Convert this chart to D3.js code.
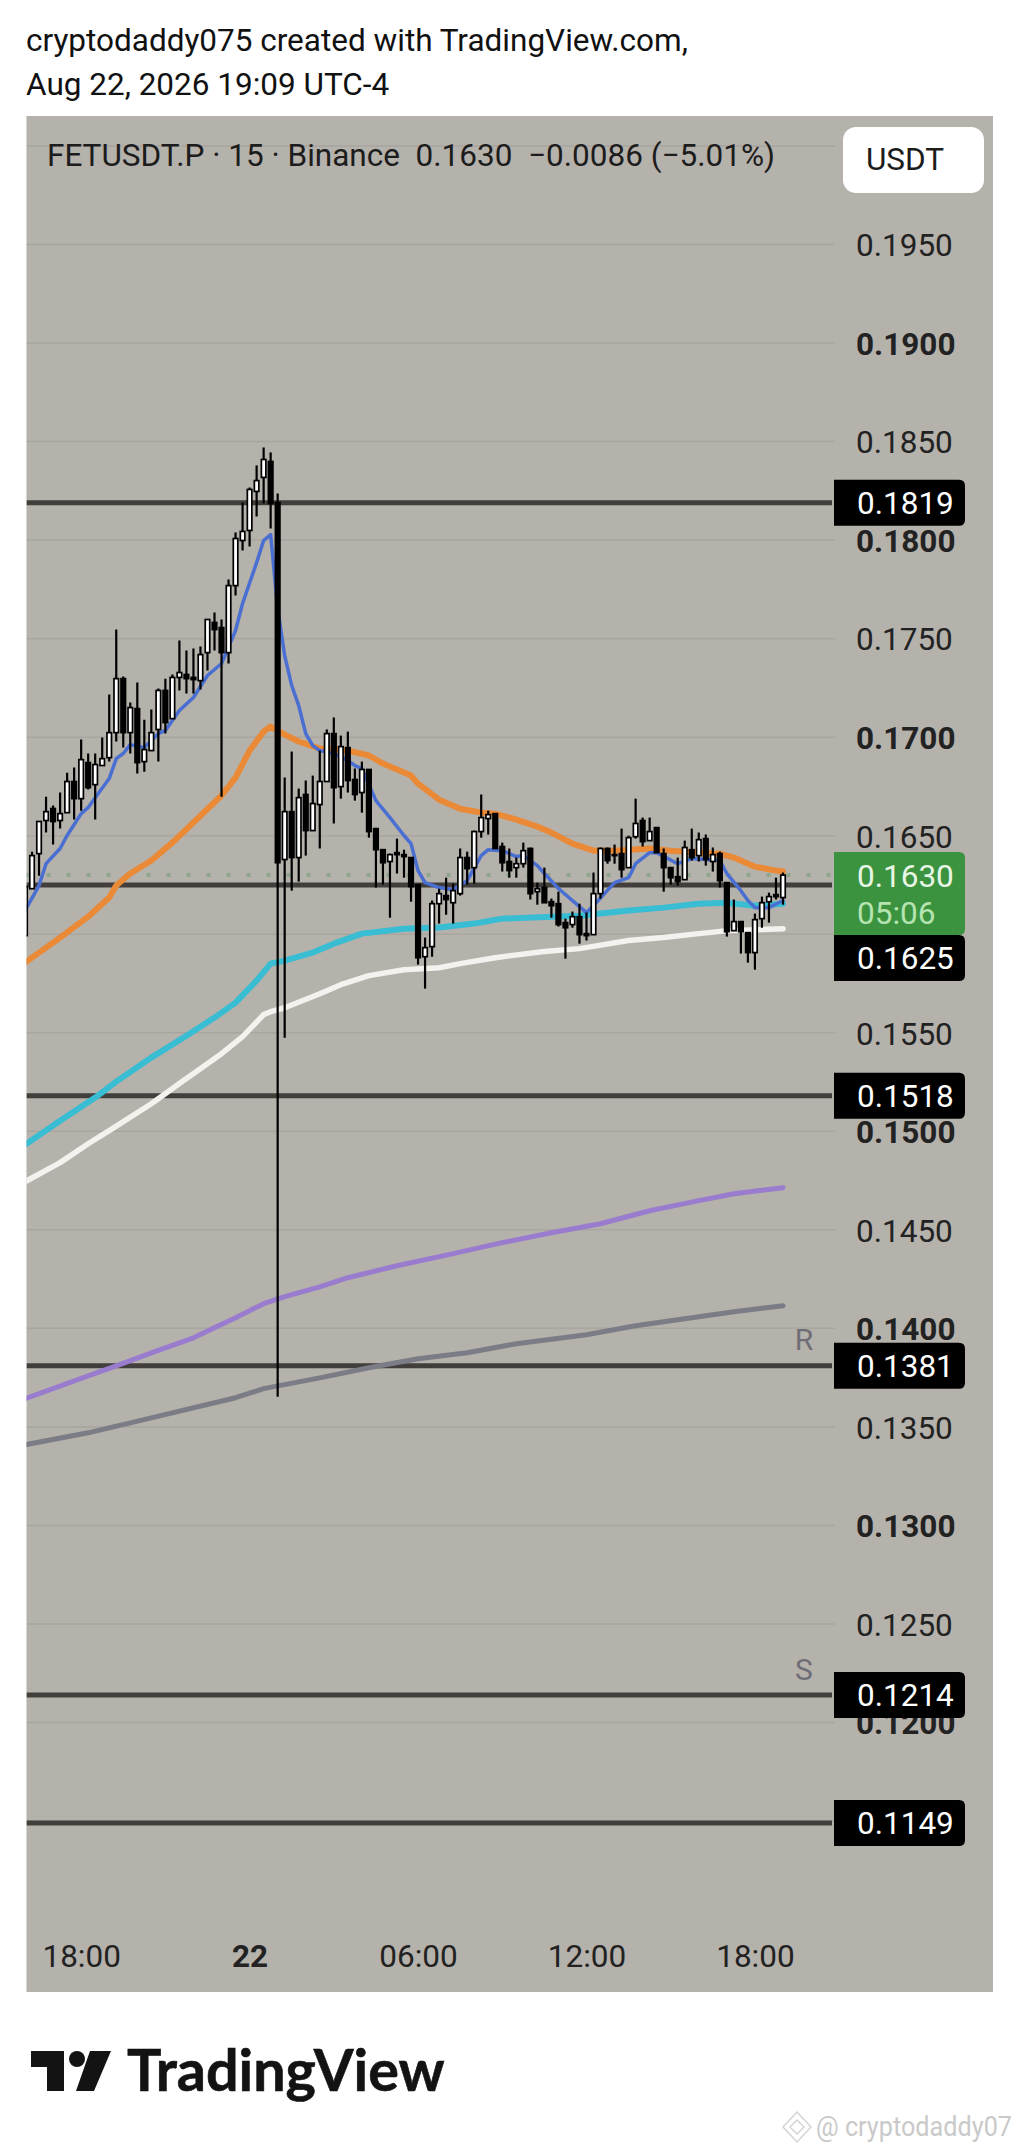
<!DOCTYPE html>
<html>
<head>
<meta charset="utf-8">
<script src="https://cdnjs.cloudflare.com/ajax/libs/d3/7.9.0/d3.min.js"></script>
<style>
  html, body { margin: 0; padding: 0; background: #fff; }
  svg { display: block; }
  text { font-family: Roboto, sans-serif; white-space: pre; }
</style>
</head>
<body>
<div id="chart"></div>
<script>
// 15 minute candles
const open = [0.15993,0.16231,0.16409,0.16577,0.16638,0.16577,0.16617,0.16775,0.16688,0.16871,0.16759,0.16856,0.16896,0.17023,0.17297,0.17023,0.17145,0.16876,0.16932,0.17039,0.17237,0.17094,0.17303,0.17318,0.17303,0.17287,0.17429,0.17582,0.17556,0.17429,0.17769,0.17998,0.18049,0.18247,0.18318,0.18399,0.18191,0.16379,0.16622,0.16389,0.16709,0.16526,0.16658,0.16775,0.17018,0.16749,0.16947,0.16785,0.16719,0.16836,0.16536,0.16429,0.16369,0.16414,0.16404,0.16389,0.16252,0.15886,0.15937,0.16155,0.16196,0.16160,0.16206,0.16389,0.16338,0.16521,0.16587,0.16612,0.16445,0.16369,0.16338,0.16358,0.16435,0.16216,0.16237,0.16165,0.16155,0.16059,0.16049,0.16089,0.16003,0.15998,0.16206,0.16435,0.16404,0.16409,0.16338,0.16495,0.16577,0.16475,0.16541,0.16409,0.16338,0.16292,0.16277,0.16429,0.16399,0.16485,0.16369,0.16409,0.16262,0.16018,0.16064,0.16008,0.15907,0.16079,0.16165,0.16201,0.16186];
const high = [0.16242,0.16419,0.16572,0.16698,0.16653,0.16719,0.16820,0.16846,0.16988,0.16917,0.16917,0.16998,0.17216,0.17546,0.17308,0.17176,0.17277,0.17089,0.17140,0.17247,0.17297,0.17318,0.17490,0.17440,0.17450,0.17460,0.17597,0.17632,0.17597,0.17800,0.18039,0.18191,0.18267,0.18379,0.18470,0.18445,0.18236,0.16795,0.16927,0.16739,0.16780,0.16805,0.16932,0.17039,0.17100,0.17008,0.17028,0.16841,0.16876,0.16836,0.16536,0.16429,0.16409,0.16485,0.16429,0.16389,0.16252,0.15983,0.16171,0.16231,0.16287,0.16257,0.16435,0.16419,0.16526,0.16709,0.16627,0.16612,0.16465,0.16435,0.16389,0.16465,0.16440,0.16262,0.16338,0.16181,0.16216,0.16079,0.16115,0.16155,0.16110,0.16313,0.16440,0.16440,0.16455,0.16536,0.16500,0.16688,0.16592,0.16592,0.16541,0.16435,0.16338,0.16389,0.16475,0.16536,0.16516,0.16506,0.16440,0.16419,0.16262,0.16176,0.16064,0.16008,0.16105,0.16191,0.16211,0.16287,0.16313];
const low = [0.15993,0.16231,0.16297,0.16516,0.16455,0.16536,0.16617,0.16582,0.16627,0.16734,0.16582,0.16856,0.16876,0.16978,0.16947,0.16917,0.16815,0.16825,0.16932,0.16876,0.17018,0.17094,0.17237,0.17221,0.17221,0.17242,0.17338,0.17440,0.16698,0.17374,0.17719,0.17947,0.17967,0.18120,0.18186,0.18059,0.13653,0.15475,0.16221,0.16267,0.16399,0.16526,0.16435,0.16775,0.16562,0.16688,0.16719,0.16678,0.16617,0.16490,0.16237,0.16252,0.16084,0.16308,0.16287,0.16165,0.15846,0.15724,0.15886,0.16054,0.16099,0.16054,0.16196,0.16252,0.16257,0.16490,0.16506,0.16435,0.16318,0.16287,0.16287,0.16338,0.16176,0.16150,0.16160,0.16084,0.16039,0.15876,0.16033,0.15952,0.15968,0.15998,0.16181,0.16358,0.16358,0.16287,0.16338,0.16485,0.16445,0.16475,0.16414,0.16216,0.16252,0.16247,0.16277,0.16374,0.16369,0.16348,0.16318,0.16237,0.15988,0.16018,0.15902,0.15856,0.15820,0.16033,0.16059,0.16176,0.16150];
const close = [0.16242,0.16399,0.16572,0.16622,0.16572,0.16612,0.16775,0.16688,0.16886,0.16744,0.16861,0.16891,0.17023,0.17297,0.17023,0.17150,0.16871,0.16937,0.17023,0.17237,0.17074,0.17303,0.17328,0.17297,0.17292,0.17419,0.17597,0.17546,0.17429,0.17769,0.18008,0.18044,0.18257,0.18302,0.18409,0.18186,0.16363,0.16622,0.16389,0.16693,0.16526,0.16663,0.16775,0.17018,0.16744,0.16952,0.16780,0.16709,0.16836,0.16521,0.16429,0.16363,0.16404,0.16404,0.16394,0.16242,0.15881,0.15932,0.16155,0.16206,0.16176,0.16221,0.16389,0.16333,0.16521,0.16592,0.16607,0.16435,0.16363,0.16323,0.16358,0.16424,0.16206,0.16231,0.16160,0.16145,0.16049,0.16033,0.16089,0.15998,0.15993,0.16206,0.16435,0.16374,0.16399,0.16328,0.16490,0.16562,0.16470,0.16521,0.16414,0.16338,0.16287,0.16267,0.16440,0.16389,0.16480,0.16379,0.16404,0.16272,0.16013,0.16064,0.16013,0.15907,0.16074,0.16160,0.16191,0.16191,0.16300];

// moving averages, read at the candle indices listed
const blueIdx = [0,2,3,5,6,8,9,10,12,13,14,15,17,19,20,22,24,26,28,30,31,33,34,35,36,37,38,39,40,41,42,44,46,47,48,50,52,54,55,56,57,59,61,63,65,66,68,70,71,73,74,76,80,81,84,86,87,89,90,93,95,97,99,100,102,103,104,106,108];
const blueVal = [0.16120,0.16247,0.16358,0.16435,0.16501,0.16612,0.16643,0.16693,0.16790,0.16891,0.16917,0.16962,0.16947,0.17018,0.17034,0.17135,0.17201,0.17313,0.17374,0.17541,0.17678,0.17886,0.17998,0.18028,0.17653,0.17414,0.17262,0.17160,0.17018,0.16957,0.16932,0.16917,0.16881,0.16856,0.16841,0.16678,0.16592,0.16501,0.16460,0.16323,0.16262,0.16237,0.16226,0.16272,0.16399,0.16429,0.16424,0.16394,0.16399,0.16348,0.16308,0.16232,0.16110,0.16145,0.16262,0.16287,0.16358,0.16414,0.16414,0.16358,0.16384,0.16379,0.16374,0.16308,0.16221,0.16171,0.16135,0.16135,0.16171];
const orangeIdx = [0,3,5,9,12,13,15,18,21,24,28,30,32,34,35,37,39,42,46,49,51,55,56,59,62,65,67,70,73,75,78,81,84,89,92,96,99,101,104,107,108];
const orangeVal = [0.15856,0.15932,0.15983,0.16089,0.16186,0.16247,0.16308,0.16374,0.16465,0.16567,0.16704,0.16795,0.16932,0.17028,0.17054,0.17013,0.16978,0.16942,0.16932,0.16907,0.16866,0.16805,0.16764,0.16683,0.16637,0.16617,0.16612,0.16582,0.16546,0.16516,0.16460,0.16424,0.16424,0.16435,0.16424,0.16414,0.16409,0.16389,0.16343,0.16323,0.16318];
const cyanIdx = [0,5,10,13,18,23,27,30,33,35,37,41,44,48,54,59,64,68,75,79,86,91,96,100,104,108];
const cyanVal = [0.14932,0.15054,0.15171,0.15252,0.15374,0.15485,0.15577,0.15653,0.15765,0.15851,0.15866,0.15907,0.15952,0.16003,0.16028,0.16034,0.16054,0.16079,0.16089,0.16094,0.16120,0.16135,0.16155,0.16160,0.16145,0.16155];
const whiteIdx = [0,5,9,12,18,22,28,31,34,35,37,42,45,49,54,59,62,67,74,79,86,91,96,100,108];
const whiteVal = [0.14744,0.14841,0.14937,0.15003,0.15140,0.15242,0.15394,0.15480,0.15592,0.15607,0.15627,0.15698,0.15744,0.15790,0.15820,0.15830,0.15851,0.15881,0.15912,0.15927,0.15968,0.15983,0.16003,0.16018,0.16028];
const purpleIdx = [0,9,13,18,24,30,34,37,42,46,53,61,68,75,82,89,96,101,108];
const purpleVal = [0.13643,0.13759,0.13810,0.13876,0.13952,0.14054,0.14125,0.14161,0.14211,0.14257,0.14318,0.14379,0.14435,0.14485,0.14531,0.14597,0.14648,0.14683,0.14714];
const grayIdx = [0,9,18,30,34,42,49,56,63,70,80,87,96,101,108];
const grayVal = [0.13409,0.13470,0.13546,0.13648,0.13694,0.13749,0.13800,0.13846,0.13876,0.13922,0.13968,0.14013,0.14059,0.14084,0.14115];

// horizontal levels and axis labels
const levels = [0.1819, 0.1625, 0.1518, 0.1381, 0.1214, 0.1149];
const priceTicks = [0.1950,0.1900,0.1850,0.1800,0.1750,0.1700,0.1650,0.1550,0.1500,0.1450,0.1400,0.1350,0.1300,0.1250,0.1200];
const gridTicks = [0.2000,0.1950,0.1900,0.1850,0.1800,0.1750,0.1700,0.1650,0.1600,0.1550,0.1500,0.1450,0.1400,0.1350,0.1300,0.1250,0.1200,0.1150];
const boldTicks = [0.1900,0.1800,0.1700,0.1500,0.1400,0.1300,0.1200];
const timeIdx = [8, 32, 56, 80, 104];
const timeLabels = ["18:00", "22", "06:00", "12:00", "18:00"];
const lastPrice = 0.1630;

const W = 1020, H = 2151;
const pane = { left: 26.5, right: 835, top: 116, bottom: 1992, edge: 993 };
const fontSize = 31.5;

const x = d3.scaleLinear().domain([0, 108]).range([25, 783]);
const y = d3.scaleLinear().domain([0.195, 0.12]).range([244.5, 1722.5]);

const svg = d3.select("#chart").append("svg")
    .attr("width", W)
    .attr("height", H);

// background of the chart
svg.append("rect")
    .attr("x", pane.left)
    .attr("y", pane.top)
    .attr("width", pane.edge - pane.left)
    .attr("height", pane.bottom - pane.top)
    .attr("fill", "#b5b1ab");

svg.append("defs").append("clipPath")
    .attr("id", "pane-clip")
  .append("rect")
    .attr("x", pane.left)
    .attr("y", pane.top)
    .attr("width", pane.right - pane.left)
    .attr("height", pane.bottom - pane.top);

const plot = svg.append("g").attr("clip-path", "url(#pane-clip)");

// gridlines
plot.selectAll("line.grid")
    .data(gridTicks)
  .enter().append("line")
    .attr("class", "grid")
    .attr("x1", pane.left)
    .attr("x2", pane.right)
    .attr("y1", d => y(d))
    .attr("y2", d => y(d))
    .attr("stroke", "#a9a59f")
    .attr("stroke-width", 1.5);

// levels
plot.selectAll("line.level")
    .data(levels)
  .enter().append("line")
    .attr("class", "level")
    .attr("x1", pane.left)
    .attr("x2", 832)
    .attr("y1", d => y(d))
    .attr("y2", d => y(d))
    .attr("stroke", "#423e3b")
    .attr("stroke-width", 5);

// dotted last price line
plot.append("line")
    .attr("x1", pane.left)
    .attr("x2", 832)
    .attr("y1", y(lastPrice))
    .attr("y2", y(lastPrice))
    .attr("stroke", "#8fa58c")
    .attr("stroke-width", 4)
    .attr("stroke-dasharray", "4 16");

// moving averages
const maLine = d3.line()
    .x(d => x(d[0]))
    .y(d => y(d[1]));

const maSeries = [
  { idx: grayIdx, val: grayVal, color: "#7c7c86", width: 5 },
  { idx: purpleIdx, val: purpleVal, color: "#9a7ccf", width: 5 },
  { idx: whiteIdx, val: whiteVal, color: "#f3f2ef", width: 5.5 },
  { idx: cyanIdx, val: cyanVal, color: "#38bdd3", width: 6 },
  { idx: orangeIdx, val: orangeVal, color: "#ea8a36", width: 6 },
  { idx: blueIdx, val: blueVal, color: "#4a6fd2", width: 3.5 }
];

plot.selectAll("path.ma")
    .data(maSeries)
  .enter().append("path")
    .attr("class", "ma")
    .attr("d", d => maLine(d.idx.map((k, j) => [k, d.val[j]])))
    .attr("fill", "none")
    .attr("stroke", d => d.color)
    .attr("stroke-width", d => d.width)
    .attr("stroke-linecap", "round")
    .attr("stroke-linejoin", "round");

// candles
const candles = plot.selectAll("g.candle")
    .data(d3.range(open.length))
  .enter().append("g")
    .attr("class", "candle");

candles.append("line")
    .attr("x1", i => x(i))
    .attr("x2", i => x(i))
    .attr("y1", i => y(high[i]))
    .attr("y2", i => y(low[i]))
    .attr("stroke", "#000")
    .attr("stroke-width", 2.2);

candles.append("rect")
    .attr("x", i => x(i) - 2.25)
    .attr("width", 4.5)
    .attr("y", i => y(Math.max(open[i], close[i])))
    .attr("height", i => Math.abs(y(open[i]) - y(close[i])))
    .attr("fill", i => close[i] >= open[i] ? "#fff" : "#000")
    .attr("stroke", "#000")
    .attr("stroke-width", 1.7);

// price axis
const priceAxis = d3.axisRight(y)
    .tickValues(priceTicks)
    .tickFormat(d3.format(".4f"))
    .tickSize(0)
    .tickPadding(0);

const priceG = svg.append("g")
    .attr("transform", "translate(856,0)")
    .call(priceAxis);
priceG.select(".domain").remove();
priceG.selectAll("text")
    .attr("dy", "0.36em")
    .style("font-family", "Roboto, sans-serif")
    .style("font-size", fontSize + "px")
    .style("font-weight", d => boldTicks.includes(d) ? 700 : 400)
    .attr("fill", "#222");

// time axis
const timeAxis = d3.axisBottom(x)
    .tickValues(timeIdx)
    .tickFormat((d, i) => timeLabels[i])
    .tickSize(0)
    .tickPadding(0);

const timeG = svg.append("g")
    .attr("transform", "translate(0,1945)")
    .call(timeAxis);
timeG.select(".domain").remove();
timeG.selectAll("text")
    .attr("y", 0)
    .attr("dy", "0.71em")
    .style("font-family", "Roboto, sans-serif")
    .style("font-size", fontSize + "px")
    .style("font-weight", (d, i) => timeLabels[i] === "22" ? 700 : 400)
    .attr("fill", "#222");

// price labels on the axis
const tag = (yTop, yBottom, fill) => {
  const r = 6;
  const l = 834, rr = 965;
  svg.append("path")
      .attr("d", `M${l},${yTop}H${rr - r}Q${rr},${yTop} ${rr},${yTop + r}V${yBottom - r}Q${rr},${yBottom} ${rr - r},${yBottom}H${l}Z`)
      .attr("fill", fill);
};

// last price label, the 0.1625 tag gets pushed below it
const lastTop = y(lastPrice) - 23;
const lastBottom = y(lastPrice) + 60;
const labelShift = p => p === 0.1625 ? lastBottom + 23 - y(p) : 0;

tag(lastTop, lastBottom, "#3c933f");
svg.append("text")
    .attr("x", 857)
    .attr("y", y(lastPrice) + 12)
    .attr("font-size", fontSize)
    .attr("fill", "#e8f6e6")
    .text(d3.format(".4f")(lastPrice));
svg.append("text")
    .attr("x", 857)
    .attr("y", y(lastPrice) + 49)
    .attr("font-size", fontSize)
    .attr("fill", "#b6e4b1")
    .text("05:06");

levels.forEach(p => {
  const yy = y(p) + labelShift(p);
  tag(yy - 23, yy + 23, "#000");
  svg.append("text")
      .attr("x", 857)
      .attr("y", yy + 11)
      .attr("font-size", fontSize)
      .attr("fill", "#fff")
      .text(d3.format(".4f")(p));
});

// R and S notes on the levels
[["R", 1350], ["S", 1680]].forEach(([t, yy]) => {
  svg.append("text")
      .attr("x", 804)
      .attr("y", yy)
      .attr("text-anchor", "middle")
      .attr("font-size", 30)
      .attr("fill", "#6e6e77")
      .text(t);
});

// legend and currency button
svg.append("text")
    .attr("x", 47)
    .attr("y", 166)
    .attr("font-size", fontSize)
    .attr("fill", "#1c1c1c")
    .text("FETUSDT.P · 15 · Binance  0.1630  −0.0086 (−5.01%)");

svg.append("rect")
    .attr("x", 843)
    .attr("y", 127)
    .attr("width", 141)
    .attr("height", 66)
    .attr("rx", 13)
    .attr("fill", "#fff");
svg.append("text")
    .attr("x", 905)
    .attr("y", 170)
    .attr("text-anchor", "middle")
    .attr("font-size", fontSize)
    .attr("fill", "#1c1c1c")
    .text("USDT");

// header
svg.append("text")
    .attr("x", 26)
    .attr("y", 51)
    .attr("font-size", fontSize)
    .attr("fill", "#111")
    .text("cryptodaddy075 created with TradingView.com,");
svg.append("text")
    .attr("x", 26)
    .attr("y", 95)
    .attr("font-size", fontSize)
    .attr("fill", "#111")
    .text("Aug 22, 2026 19:09 UTC-4");

// TradingView logo
const logo = svg.append("g").attr("fill", "#131313");
logo.append("path").attr("d", "M31,2051H64V2091H47V2067H31Z");
logo.append("circle").attr("cx", 77).attr("cy", 2059).attr("r", 8);
logo.append("path").attr("d", "M90,2051H111L94,2091H76Z");
svg.append("text")
    .attr("x", 127)
    .attr("y", 2091)
    .attr("font-size", 57.5)
    .attr("font-weight", 700)
    .attr("fill", "#131313")
    .attr("stroke", "#131313")
    .attr("stroke-width", 0.6)
    .style("font-family", "Lato, sans-serif")
    .text("TradingView");

// watermark
const mark = svg.append("g")
    .attr("fill", "none")
    .attr("stroke", "#d4d4d4")
    .attr("stroke-width", 1.5);
mark.append("path").attr("d", "M797,2112L811,2127L797,2142L783,2127Z");
mark.append("path").attr("d", "M797,2120L804,2127L797,2134L790,2127Z");
svg.append("text")
    .attr("x", 816)
    .attr("y", 2136)
    .attr("font-size", 27)
    .attr("fill", "#c9c9c9")
    .attr("textLength", 196)
    .attr("lengthAdjust", "spacingAndGlyphs")
    .text("@ cryptodaddy07");
</script>
</body>
</html>
